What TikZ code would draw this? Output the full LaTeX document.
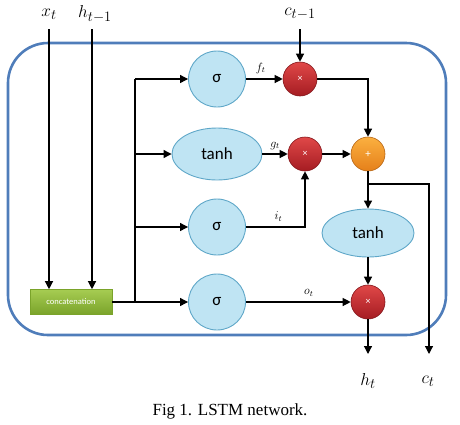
\documentclass[tikz,border=0pt]{standalone}
\usepackage{fontspec}
\setmainfont{Liberation Serif}
\newfontfamily\calib{Carlito}
\usetikzlibrary{shapes.geometric,arrows.meta}
\definecolor{frameblue}{HTML}{4F7DBA}
\definecolor{gatefill}{HTML}{BFE4F3}
\definecolor{gateedge}{HTML}{5FA7C8}
\definecolor{redtop}{HTML}{E04848}
\definecolor{redbot}{HTML}{A51C22}
\definecolor{orgtop}{HTML}{FBB040}
\definecolor{orgbot}{HTML}{E5801A}
\definecolor{grntop}{HTML}{A6CC52}
\definecolor{grnbot}{HTML}{7AA32A}
\tikzset{
  gate/.style={ellipse, draw=gateedge, line width=0.9pt, fill=gatefill, inner sep=0pt,
    font=\calib\fontsize{17}{17}\selectfont},
  mulop/.style={circle, draw=redbot!80!black, line width=0.6pt, top color=redtop, bottom color=redbot,
    minimum size=34pt, inner sep=0pt, text=white, font=\calib\fontsize{10}{10}\selectfont},
  addop/.style={circle, draw=orgbot!80!black, line width=0.6pt, top color=orgtop, bottom color=orgbot,
    minimum size=34pt, inner sep=0pt, text=white, font=\calib\fontsize{11}{11}\selectfont},
  conc/.style={rectangle, draw=grnbot, line width=0.6pt, top color=grntop, bottom color=grnbot,
    minimum width=82pt, minimum height=25pt, inner sep=0pt, text=white, font=\calib\fontsize{8.5}{8.5}\selectfont},
  lab/.style={inner sep=0pt, font=\fontsize{19}{19}\selectfont},
  slab/.style={inner sep=0pt, font=\fontsize{11.5}{11.5}\selectfont},
  conn/.style={line width=1.2pt, -{Triangle[length=8pt,width=8pt]}},
  wire/.style={line width=1.2pt},
}
\begin{document}
\begin{tikzpicture}[x=1pt,y=-1pt]
\useasboundingbox (0,0) rectangle (460,424);
% frame
\draw[frameblue, line width=2.6pt, rounded corners=40pt] (8,43) rectangle (446,335);
% labels
\node[lab] (xt) at (49,14) {$x_t$};
\node[lab] (hp) at (95,14) {$h_{t-1}$};
\node[lab] (cp) at (300,14) {$c_{t-1}$};
\node[lab] (ht) at (368,381) {$h_t$};
\node[lab] (ct) at (428,381) {$c_t$};
% nodes
\node[conc] (cc) at (71,302) {concatenation};
\node[gate, minimum width=57pt, minimum height=56pt] (sf) at (217,79) {σ};
\node[gate, minimum width=90pt, minimum height=52pt] (tg) at (217,154) {tanh};
\node[gate, minimum width=57pt, minimum height=56pt] (si) at (217,227) {σ};
\node[gate, minimum width=57pt, minimum height=56pt] (so) at (217,302) {σ};
\node[mulop] (m1) at (300,79) {×};
\node[mulop] (m2) at (305,154) {×};
\node[addop] (ad) at (368,154) {+};
\node[gate, minimum width=92pt, minimum height=48pt] (tc) at (368,233) {tanh};
\node[mulop] (m3) at (368,302) {×};
\coordinate (xin) at (49,29);
\coordinate (hin) at (92,29);
\coordinate (cin) at (300,29);
\coordinate (bus) at (135,302);
\coordinate (bustop) at (135,79);
\coordinate (split) at (368,184);
\coordinate (ccorner) at (429,184);
\coordinate (htend) at (368,354);
\coordinate (ctend) at (429,354);
% inputs
\draw[conn] (xin) -- (xin |- cc.north);
\draw[conn] (hin) -- (hin |- cc.north);
\draw[conn] (cin) -- (m1.north);
% bus
\draw[wire] (cc.east) -- (bus) -- (bustop);
\draw[conn] (bustop) -- (sf.west);
\draw[conn] (bus |- tg.west) -- (tg.west);
\draw[conn] (bus |- si.west) -- (si.west);
\draw[conn] (bus) -- (so.west);
% gates to ops
\draw[conn] (sf.east) -- node[slab, above=5pt, pos=0.4] (fl) {$f_t$} (m1.west);
\draw[conn] (tg.east) -- node[slab, above=4pt, pos=0.5] (gl) {$g_t$} (m2.west);
\draw[conn] (si.east) -- node[slab, above=5pt, pos=0.55] (il) {$i_t$} (si.east -| m2.south) -- (m2.south);
\draw[conn] (so.east) -- node[slab, above=5pt, pos=0.6] (ol) {$o_t$} (m3.west);
\draw[conn] (m1.east) -| (ad.north);
\draw[conn] (m2.east) -- (ad.west);
\draw[conn] (ad.south) -- (tc.north);
\draw[conn] (split) -- (ccorner) -- (ctend);
\draw[conn] (tc.south) -- (m3.north);
\draw[conn] (m3.south) -- (htend);
% caption
\node[inner sep=0pt, font=\fontsize{17}{17}\selectfont] (cap) at (230,411) {Fig 1. LSTM network.};
\end{tikzpicture}
\end{document}
